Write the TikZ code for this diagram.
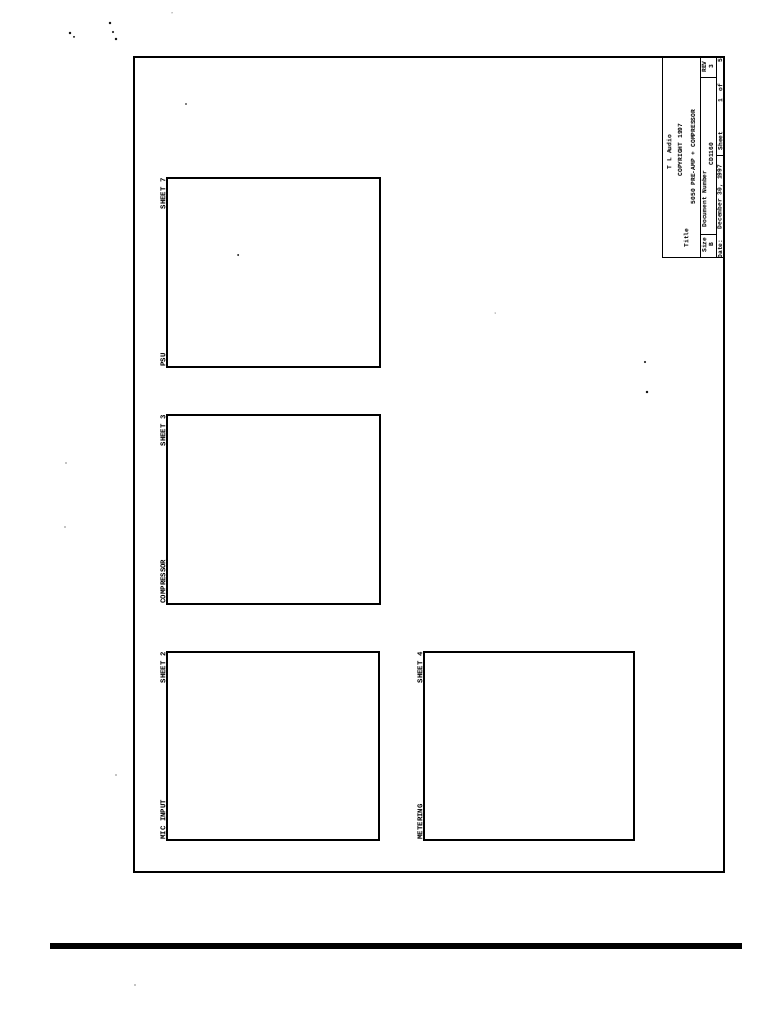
\documentclass[tikz,border=0pt]{standalone}
\usepackage{fontspec}
\setmonofont{Liberation Mono}
\begin{document}
\begin{tikzpicture}[x=1pt,y=-1pt,
  frameline/.style={line width=1.3pt, black},
  sheetbox/.style={line width=1.1pt, black},
  tbline/.style={line width=0.9pt, black},
  boxlabel/.style={rotate=90, inner sep=0.3pt, font=\ttfamily\bfseries\fontsize{7.3}{8}\selectfont},
  tbtext/.style={rotate=90, inner sep=0pt, font=\ttfamily\bfseries\fontsize{6.3}{7}\selectfont},
  speck/.style={fill=black, draw=none}]
\useasboundingbox (0,0) rectangle (768,1024);
\fill[white] (0,0) rectangle (768,1024);

% outer frame
\draw[frameline] (134,57) rectangle (724,872);

% title block
\coordinate (tbA) at (662,58);
\coordinate (tbB) at (724,257);
\draw[tbline] (662,58) -- (662,257) -- (724,257);
\draw[tbline] (700,58) -- (700,257);
\draw[tbline] (716,58) -- (716,257);
\draw[tbline] (700,234) -- (716,234);
\draw[tbline] (700,77) -- (716,77);
\draw[tbline] (716,155) -- (724,155);

\node[tbtext] (tla) at (669,152) {T L Audio};
\node[tbtext] (copy) at (680,150) {COPYRIGHT 1997};
\node[tbtext, anchor=center] (ttl) at (686,238) {Title};
\node[tbtext] (prod) at (693,157) {5050 PRE-AMP + COMPRESSOR};
\node[tbtext] (sz) at (704,245) {Size};
\node[tbtext] (docn) at (704,199) {Document Number};
\node[tbtext] (rev) at (704,67) {REV};
\node[tbtext] (szv) at (711,245) {B};
\node[tbtext] (docv) at (711,154) {CD1160};
\node[tbtext] (revv) at (711,67) {3};
\node[tbtext] (dt) at (720,249) {Date:};
\node[tbtext] (dtv) at (720,197) {December 30, 1997};
\node[tbtext] (sh) at (720,141) {Sheet};
\node[tbtext] (shv) at (720,93) {1\ \ of};
\node[tbtext] (shn) at (720,61) {5};

% sheet boxes
\draw[sheetbox] (167,178) rectangle (380,367);
\node[boxlabel, anchor=south east] (psuS) at (166,178) {SHEET 7};
\node[boxlabel, anchor=south west] (psu) at (166,367) {PSU};

\draw[sheetbox] (167,415) rectangle (380,604);
\node[boxlabel, anchor=south east] (compS) at (166,415) {SHEET 3};
\node[boxlabel, anchor=south west] (comp) at (166,604) {COMPRESSOR};

\draw[sheetbox] (167,652) rectangle (379,840);
\node[boxlabel, anchor=south east] (micS) at (166,652) {SHEET 2};
\node[boxlabel, anchor=south west] (mic) at (166,840) {MIC INPUT};

\draw[sheetbox] (424,652) rectangle (634,840);
\node[boxlabel, anchor=south east] (metS) at (423,652) {SHEET 4};
\node[boxlabel, anchor=south west] (met) at (423,840) {METERING};

% thick rule at bottom
\fill[black] (50,943) rectangle (742,949);

% scan specks
\fill[speck] (70,33) circle (1.3);
\fill[speck] (74,37) circle (1);
\fill[speck] (110,23) circle (1.4);
\fill[speck] (113,32) circle (1.2);
\fill[speck] (116,39) circle (1.3);
\fill[speck] (186,104) circle (0.8);
\fill[speck] (238,255) circle (1);
\fill[speck] (645,362) circle (1.2);
\fill[speck] (647,392) circle (1.3);
\fill[speck] (172,13) circle (0.5);
\fill[speck] (66,463) circle (0.6);
\fill[speck] (65,527) circle (0.6);
\fill[speck] (116,775) circle (0.6);
\fill[speck] (135,985) circle (0.6);
\fill[speck] (495,313) circle (0.5);
\end{tikzpicture}
\end{document}
